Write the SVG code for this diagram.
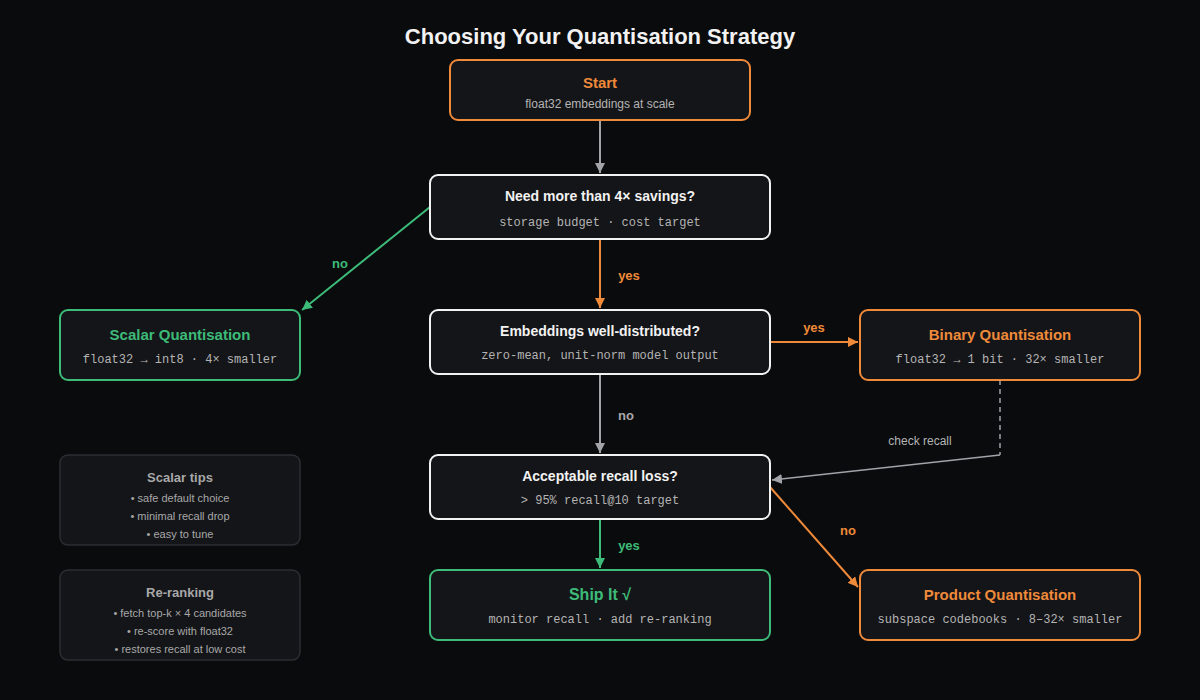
<svg xmlns="http://www.w3.org/2000/svg" width="1200" height="700" viewBox="0 0 1200 700">
<style>
.bx{fill:#141518;stroke-width:2}
.w{stroke:#f2f2f2}.o{stroke:#ee8a3a}.g{stroke:#3dbb78}.d{stroke:#2c2e33;stroke-width:1.5}
text{font-family:"Liberation Sans",Arial,sans-serif;text-anchor:middle}
.t{font-size:14px;font-weight:bold;fill:#f2f2f2}
.tt{font-size:15px;font-weight:bold}
.m{font-family:"Liberation Mono","Courier New",monospace;font-size:12px;fill:#b4b4b4}
.s{font-size:12px;fill:#b4b4b4}
.l{font-size:13px;font-weight:bold}
.sm{font-size:11px;fill:#a8a8a8}
</style>
<defs>
<marker id="ag" viewBox="0 0 10 10" refX="10" refY="5" markerWidth="10" markerHeight="10" markerUnits="userSpaceOnUse" orient="auto"><path d="M0,0L10,5L0,10z" fill="#a0a3a8"/></marker>
<marker id="ao" viewBox="0 0 10 10" refX="10" refY="5" markerWidth="10" markerHeight="10" markerUnits="userSpaceOnUse" orient="auto"><path d="M0,0L10,5L0,10z" fill="#ee8a3a"/></marker>
<marker id="an" viewBox="0 0 10 10" refX="10" refY="5" markerWidth="10" markerHeight="10" markerUnits="userSpaceOnUse" orient="auto"><path d="M0,0L10,5L0,10z" fill="#3dbb78"/></marker>
<marker id="agr" viewBox="0 0 10 10" refX="10" refY="5" markerWidth="10" markerHeight="10" markerUnits="userSpaceOnUse" orient="auto"><path d="M0,0L10,5L0,10z" fill="#3dbb78"/></marker>
</defs>
<rect width="1200" height="700" fill="#0a0b0d"/>
<text x="600" y="44" style="font-size:22px;font-weight:bold;fill:#f2f2f2">Choosing Your Quantisation Strategy</text>
<g id="connectors" fill="none" stroke-width="2">
<line x1="600" y1="120" x2="600" y2="173" stroke="#a0a3a8" marker-end="url(#ag)"/>
<line x1="600" y1="240" x2="600" y2="308" stroke="#ee8a3a" marker-end="url(#ao)"/>
<text x="629" y="280" class="l" fill="#ee8a3a" stroke="none">yes</text>
<line x1="430" y1="207" x2="302" y2="310" stroke="#3dbb78" marker-end="url(#an)"/>
<text x="340" y="268" class="l" fill="#3dbb78" stroke="none">no</text>
<line x1="770" y1="342" x2="858" y2="342" stroke="#ee8a3a" marker-end="url(#ao)"/>
<text x="814" y="332" class="l" fill="#ee8a3a" stroke="none">yes</text>
<line x1="600" y1="375" x2="600" y2="453" stroke="#a0a3a8" marker-end="url(#ag)"/>
<text x="626" y="420" class="l" fill="#a8a8a8" stroke="none">no</text>
<path d="M1000,380V455" stroke="#a0a3a8" stroke-dasharray="5,4" stroke-width="1.5"/>
<line x1="1000" y1="455" x2="772" y2="480" stroke="#a0a3a8" stroke-width="1.5" marker-end="url(#ag)"/>
<text x="920" y="445" class="s" fill="#a8a8a8" stroke="none">check recall</text>
<line x1="600" y1="520" x2="600" y2="568" stroke="#3dbb78" marker-end="url(#an)"/>
<text x="629" y="550" class="l" fill="#3dbb78" stroke="none">yes</text>
<line x1="770" y1="487" x2="858" y2="587" stroke="#ee8a3a" marker-end="url(#ao)"/>
<text x="848" y="535" class="l" fill="#ee8a3a" stroke="none">no</text>
</g>
<g id="start"><rect class="bx o" x="450" y="60" width="300" height="60" rx="8"/><text x="600" y="88" class="tt" fill="#ee8a3a">Start</text><text x="600" y="108" class="s">float32 embeddings at scale</text></g>
<g id="q1"><rect class="bx w" x="430" y="175" width="340" height="64" rx="8"/><text x="600" y="201" class="t">Need more than 4× savings?</text><text x="600" y="226" class="m">storage budget · cost target</text></g>
<g id="q2"><rect class="bx w" x="430" y="310" width="340" height="64" rx="8"/><text x="600" y="336" class="t">Embeddings well-distributed?</text><text x="600" y="359" class="m">zero-mean, unit-norm model output</text></g>
<g id="q3"><rect class="bx w" x="430" y="455" width="340" height="64" rx="8"/><text x="600" y="481" class="t">Acceptable recall loss?</text><text x="600" y="504" class="m">&gt; 95% recall@10 target</text></g>
<g id="scalar"><rect class="bx g" x="60" y="310" width="240" height="70" rx="8"/><text x="180" y="340" class="tt" fill="#3dbb78">Scalar Quantisation</text><text x="180" y="363" class="m">float32 → int8 · 4× smaller</text></g>
<g id="binary"><rect class="bx o" x="860" y="310" width="280" height="70" rx="8"/><text x="1000" y="340" class="tt" fill="#ee8a3a">Binary Quantisation</text><text x="1000" y="363" class="m">float32 → 1 bit · 32× smaller</text></g>
<g id="ship"><rect class="bx g" x="430" y="570" width="340" height="70" rx="8"/><text x="600" y="600" style="font-size:16px;font-weight:bold" fill="#3dbb78">Ship It √</text><text x="600" y="623" class="m">monitor recall · add re-ranking</text></g>
<g id="product"><rect class="bx o" x="860" y="570" width="280" height="70" rx="8"/><text x="1000" y="600" class="tt" fill="#ee8a3a">Product Quantisation</text><text x="1000" y="623" class="m">subspace codebooks · 8–32× smaller</text></g>
<g id="tips"><rect class="bx d" x="60" y="455" width="240" height="90" rx="8"/><text x="180" y="482" class="l" fill="#a8a8a8">Scalar tips</text><text x="180" y="502" class="sm">• safe default choice</text><text x="180" y="520" class="sm">• minimal recall drop</text><text x="180" y="538" class="sm">• easy to tune</text></g>
<g id="rerank"><rect class="bx d" x="60" y="570" width="240" height="90" rx="8"/><text x="180" y="597" class="l" fill="#a8a8a8">Re-ranking</text><text x="180" y="617" class="sm">• fetch top-k × 4 candidates</text><text x="180" y="635" class="sm">• re-score with float32</text><text x="180" y="653" class="sm">• restores recall at low cost</text></g>
</svg>
